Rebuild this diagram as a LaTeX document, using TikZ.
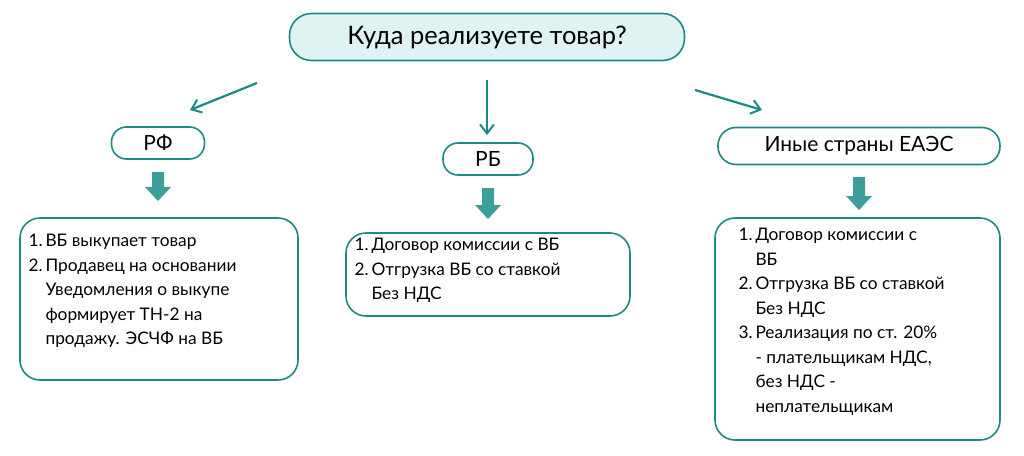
\documentclass[tikz,border=0pt]{standalone}
\usepackage{fontspec}
\setmainfont{Lato}
\usetikzlibrary{positioning,arrows.meta}
\definecolor{tealline}{HTML}{1A8A87}
\definecolor{tealfill}{HTML}{E0F2F1}
\definecolor{tealblock}{HTML}{3A9E9A}
\tikzset{
  pill/.style={draw=tealline,line width=1.6pt,rounded corners=15pt,fill=white,font=\fontsize{21}{23}\selectfont,inner sep=0pt},
  listbox/.style={draw=tealline,line width=1.6pt,rounded corners=20pt,fill=white,inner sep=0pt},
  listtext/.style={anchor=north west,align=left,font=\fontsize{17.3}{24.5}\selectfont},
  thin/.style={draw=tealline,line width=2.2pt,-{Straight Barb[length=9pt,width=14pt,line width=2pt]}}
}
\newcommand{\itm}[2]{\makebox[17pt][r]{#1.\,}#2}
% block arrow: x, top y, bottom y
\newcommand{\blockarrow}[3]{\fill[tealblock] (#1-6,#2) -- (#1+6,#2) -- (#1+6,#3-14) -- (#1+13,#3-14) -- (#1,#3) -- (#1-13,#3-14) -- (#1-6,#3-14) -- cycle;}
\begin{document}
\begin{tikzpicture}[x=1pt,y=-1pt]
\useasboundingbox (0,0) rectangle (1024,455);
% top question
\node[pill,fill=tealfill,minimum width=395pt,minimum height=47pt,rounded corners=22pt,font=\fontsize{25.5}{28}\selectfont] (top) at (487,37) {Куда реализуете товар?};
% countries
\node[pill,minimum width=93pt,minimum height=32pt] (rf) at (158,143) {РФ};
\node[pill,minimum width=90pt,minimum height=32pt] (rb) at (488,159) {РБ};
\node[pill,minimum width=282pt,minimum height=37pt,rounded corners=18pt] (eaes) at (859,146) {Иные страны ЕАЭС};
% thin arrows
\coordinate (l0) at (257,83); \coordinate (l1) at (190,110);
\coordinate (m0) at (487,80); \coordinate (m1) at (487,135);
\coordinate (r0) at (695,90); \coordinate (r1) at (762,110);
\draw[thin] (l0) -- (l1);
\draw[thin,line width=1.6pt] (m0) -- (m1);
\draw[thin] (r0) -- (r1);
% block arrows
\blockarrow{158}{172}{201}
\blockarrow{488}{188}{219}
\blockarrow{859}{177}{210}
% boxes
\node[listbox,minimum width=278pt,minimum height=162pt] (box1) at (159,299) {};
\node[listtext] (t1) at (25,231) {\itm{1}{ВБ выкупает товар}\\\itm{2}{Продавец на основании}\\\hspace*{17pt}Уведомления о выкупе\\\hspace*{17pt}формирует ТН-2 на\\\hspace*{17pt}продажу. ЭСЧФ на ВБ};
\node[listbox,minimum width=284pt,minimum height=83pt] (box2) at (488,274.5) {};
\node[listtext] (t2) at (351,235) {\itm{1}{Договор комиссии с ВБ}\\\itm{2}{Отгрузка ВБ со ставкой}\\\hspace*{17pt}Без НДС};
\node[listbox,minimum width=285pt,minimum height=222pt] (box3) at (857.5,329) {};
\node[listtext] (t3) at (735,225) {\itm{1}{Договор комиссии с}\\\hspace*{17pt}ВБ\\\itm{2}{Отгрузка ВБ со ставкой}\\\hspace*{17pt}Без НДС\\\itm{3}{Реализация по ст. 20\%}\\\hspace*{17pt}- плательщикам НДС,\\\hspace*{17pt}без НДС -\\\hspace*{17pt}неплательщикам};
\end{tikzpicture}
\end{document}
